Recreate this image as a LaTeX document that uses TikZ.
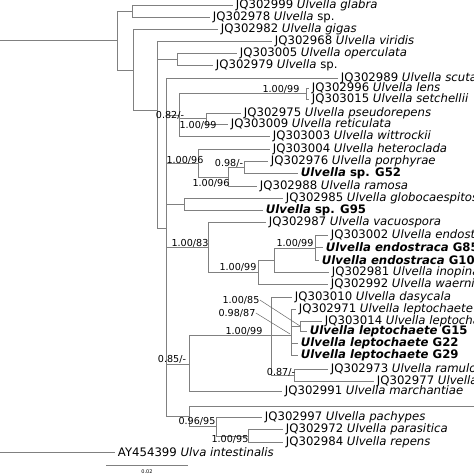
\documentclass[tikz,border=0pt]{standalone}
\usepackage{fontspec}
\setmainfont{DejaVu Sans}
\usepackage{tikz}

\begin{document}
\begin{tikzpicture}[x=1pt,y=-1pt,line width=.9pt,
  br/.style={draw=black!50},
  lf/.style={right,inner sep=2.5pt,text=black,font=\fontsize{11.7}{13}\selectfont},
  bs/.style={inner sep=0pt,font=\fontsize{9.6}{11}\selectfont},
  ld/.style={draw=black!60,line width=.5pt}]
  \useasboundingbox (0,0) rectangle (474,474);
  \clip (0,0) rectangle (474,474);
  % root, outgroup
  \draw[br] (0,40)--(117,40) (117,11)--(117,70);
  \draw[br] (0,452)--(115,452) node[lf] (intest) {AY454399 \textit{Ulva intestinalis}};
  % glabra, sp.
  \draw[br] (117,11)--(132,11) (132,5)--(132,17);
  \draw[br] (132,5)--(233,5) node[lf] (glabra) {JQ302999 \textit{Ulvella glabra}};
  \draw[br] (132,17)--(210,17) node[lf] (sp978) {JQ302978 \textit{Ulvella} sp.};
  % gigas and the rest
  \draw[br] (117,70)--(133,70) (133,29)--(133,110);
  \draw[br] (133,29)--(218,29) node[lf] (gigas) {JQ302982 \textit{Ulvella gigas}};
  \draw[br] (133,110)--(157,110) (157,41)--(157,228);
  \draw[br] (157,41)--(272,41) node[lf] (viridis) {JQ302968 \textit{Ulvella viridis}};
  \draw[br] (157,59)--(177,59) (177,53)--(177,65);
  \draw[br] (177,53)--(237,53) node[lf] (opercul) {JQ303005 \textit{Ulvella operculata}};
  \draw[br] (177,65)--(213,65) node[lf] (sp979) {JQ302979 \textit{Ulvella} sp.};
  % main clade
  \draw[br] (157,228)--(166,228) (166,78)--(166,416);
  \draw[br] (166,78)--(338,78) node[lf] (scut) {JQ302989 \textit{Ulvella scutata}};
  % 0.82/- clade
  \draw[br] (166,115)--(179,115) (179,93.5)--(179,136);
  \draw[br] (179,93.5)--(306,93.5) (306,88)--(306,99);
  \draw[br] (306,88)--(309,88) node[lf] (lens) {JQ302996 \textit{Ulvella lens}};
  \draw[br] (306,99)--(309,99) node[lf] (setch) {JQ303015 \textit{Ulvella setchellii}};
  \draw[br] (179,118.5)--(206,118.5) (206,113)--(206,124);
  \draw[br] (206,113)--(241,113) node[lf] (pseudo) {JQ302975 \textit{Ulvella pseudorepens}};
  \draw[br] (206,124)--(228,124) node[lf] (retic) {JQ303009 \textit{Ulvella reticulata}};
  \draw[br] (179,136)--(270,136) node[lf] (wittr) {JQ303003 \textit{Ulvella wittrockii}};
  % 1.00/96 clade
  \draw[br] (166,163)--(198,163) (198,149)--(198,177);
  \draw[br] (198,149)--(270,149) node[lf] (heter) {JQ303004 \textit{Ulvella heteroclada}};
  \draw[br] (198,177)--(228,177) (228,167)--(228,186);
  \draw[br] (228,167)--(244,167) (244,161)--(244,173);
  \draw[br] (244,161)--(268,161) node[lf] (porph) {JQ302976 \textit{Ulvella porphyrae}};
  \draw[br] (244,173)--(298,173) node[lf] (g52) {\textbf{\textit{Ulvella} sp. G52}};
  \draw[br] (228,186)--(257,186) node[lf] (ramosa) {JQ302988 \textit{Ulvella ramosa}};
  % globocaespitosa, G95
  \draw[br] (166,204)--(184,204) (184,198)--(184,210);
  \draw[br] (184,198)--(283,198) node[lf] (globo) {JQ302985 \textit{Ulvella globocaespitosa}};
  \draw[br] (184,210)--(263,210) node[lf] (g95) {\textbf{\textit{Ulvella} sp. G95}};
  % 1.00/83 clade
  \draw[br] (166,247)--(208,247) (208,222)--(208,272);
  \draw[br] (208,222)--(266,222) node[lf] (vacuo) {JQ302987 \textit{Ulvella vacuospora}};
  \draw[br] (208,272)--(258,272) (258,260)--(258,284);
  \draw[br] (258,260)--(274,260) (274,248)--(274,272);
  \draw[br] (274,248)--(315,248) (315,235)--(315,260);
  \draw[br] (315,235)--(328,235) node[lf] (endos) {JQ303002 \textit{Ulvella endostraca}};
  \draw[br] (315,247)--(323,247) node[lf] (g85) {\textbf{\textit{Ulvella endostraca} G85}};
  \draw[br] (315,260)--(319,260) node[lf] (g104) {\textbf{\textit{Ulvella endostraca} G104}};
  \draw[br] (274,272)--(329,272) node[lf] (inopin) {JQ302981 \textit{Ulvella inopinata}};
  \draw[br] (258,284)--(328,284) node[lf] (waern) {JQ302992 \textit{Ulvella waernii}};
  % 0.85/- clade
  \draw[br] (166,364)--(189,364) (189,335)--(189,391);
  \draw[br] (189,335)--(271,335) (271,297)--(271,375);
  \draw[br] (271,297)--(292,297) node[lf] (dasyc) {JQ303010 \textit{Ulvella dasycala}};
  \draw[br] (271,335)--(291,335) (291,309)--(291,355);
  \draw[br] (291,309)--(296,309) node[lf] (lep971) {JQ302971 \textit{Ulvella leptochaete}};
  \draw[br] (291,326)--(300,326) (300,321)--(300,331);
  \draw[br] (300,321)--(322,321) node[lf] (lep014) {JQ303014 \textit{Ulvella leptochaete}};
  \draw[br] (300,331)--(307,331) node[lf] (g15) {\textbf{\textit{Ulvella leptochaete} G15}};
  \draw[br] (291,343)--(298,343) node[lf] (g22) {\textbf{\textit{Ulvella leptochaete} G22}};
  \draw[br] (291,355)--(298,355) node[lf] (g29) {\textbf{\textit{Ulvella leptochaete} G29}};
  \draw[br] (271,375)--(294,375) (294,369)--(294,381);
  \draw[br] (294,369)--(328,369) node[lf] (ramul) {JQ302973 \textit{Ulvella ramulosa}};
  \draw[br] (294,381)--(374,381) node[lf] (sp977) {JQ302977 \textit{Ulvella}};
  \draw[br] (189,391)--(282,391) node[lf] (march) {JQ302991 \textit{Ulvella marchantiae}};
  % 0.96/95 clade
  \draw[br] (166,416)--(189,416) (189,406)--(189,426);
  \draw[br] (189,406)--(480,406);
  \draw[br] (189,426)--(216,426) (216,417)--(216,436);
  \draw[br] (216,417)--(262,417) node[lf] (pachyp) {JQ302997 \textit{Ulvella pachypes}};
  \draw[br] (216,436)--(248,436) (248,429)--(248,442);
  \draw[br] (248,429)--(283,429) node[lf] (parasit) {JQ302972 \textit{Ulvella parasitica}};
  \draw[br] (248,442)--(283,442) node[lf] (repens) {JQ302984 \textit{Ulvella repens}};
  % support values
  \node[bs] (s82) at (170,115) {0.82/-};
  \node[bs] (s99a) at (281,89) {1.00/99};
  \node[bs] (s99b) at (198,125) {1.00/99};
  \node[bs] (s96a) at (185,160) {1.00/96};
  \node[bs] (s98) at (229,163) {0.98/-};
  \node[bs] (s96b) at (211,183) {1.00/96};
  \node[bs] (s83) at (190,243) {1.00/83};
  \node[bs] (s99c) at (295,243) {1.00/99};
  \node[bs] (s99d) at (238,267) {1.00/99};
  \node[bs] (s85) at (241,300) {1.00/85};
  \node[bs] (s87) at (237,313) {0.98/87};
  \node[bs] (s99e) at (244,331) {1.00/99};
  \node[bs] (s87b) at (281,372) {0.87/-};
  \node[bs] (s85b) at (172,359) {0.85/-};
  \node[bs] (s95a) at (197,421) {0.96/95};
  \node[bs] (s95b) at (230,439) {1.00/95};
  \draw[ld] (s85.east)--(300,326);
  \draw[ld] (s87.east)--(290,334);
  % scale bar
  \draw[br] (106,465)--(188,465);
  \node[font=\fontsize{5}{6}\selectfont,inner sep=0pt] (sbar) at (147,472) {0.02};
\end{tikzpicture}
\end{document}
